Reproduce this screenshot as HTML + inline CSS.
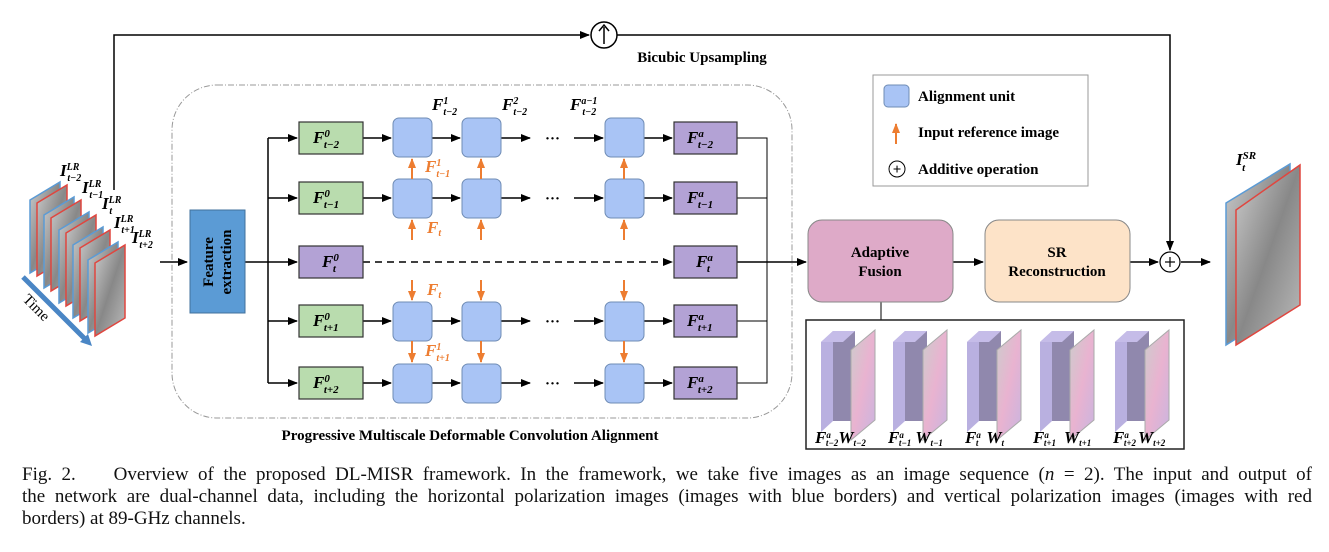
<!DOCTYPE html>
<html><head><meta charset="utf-8"><style>
body{margin:0;background:#fff;width:1329px;height:552px;overflow:hidden}
svg{position:absolute;left:0;top:0}
.b{font-family:"Liberation Serif",serif;font-weight:bold;font-size:15px}
.m{font-family:"Liberation Serif",serif;font-weight:bold;font-style:italic;font-size:17px}
.o{fill:#ed7d31}
.cap{position:absolute;left:22px;top:464px;width:1290px;font-family:"Liberation Serif",serif;font-size:19px;line-height:22px;color:#111}
.cap div{text-align:justify;text-align-last:justify;white-space:nowrap}
.cap div.l{text-align-last:left}
</style></head><body>
<svg width="1329" height="552" viewBox="0 0 1329 552">
<defs>
<marker id="a" markerWidth="10" markerHeight="8" refX="9" refY="4" orient="auto" markerUnits="userSpaceOnUse"><path d="M0,0L10,4L0,8z" fill="#000"/></marker>
<marker id="ao" markerWidth="10" markerHeight="8" refX="9" refY="4" orient="auto" markerUnits="userSpaceOnUse"><path d="M0,0L10,4L0,8z" fill="#ed7d31"/></marker>
<linearGradient id="g" x1="0" y1="0" x2="1" y2="1"><stop offset="0" stop-color="#ccc"/><stop offset=".5" stop-color="#888"/><stop offset="1" stop-color="#bbb"/></linearGradient>
<linearGradient id="pk" x1="0" y1="0" x2="1" y2="1"><stop offset="0" stop-color="#ccc"/><stop offset=".5" stop-color="#e9b3d0"/><stop offset="1" stop-color="#c9b4e0"/></linearGradient>
</defs>
<rect x="172" y="85" width="620" height="333" rx="45" fill="none" stroke="#999" stroke-dasharray="6,2,1,2"/>
<text x="470" y="440" text-anchor="middle" class="b">Progressive Multiscale Deformable Convolution Alignment</text>
<g stroke-width="1.5">
<path d="M30,200L60,182L60,255L30,273z" fill="url(#g)" stroke="#5b9bd5"/><path d="M37,203L67,185L67,258L37,276z" fill="url(#g)" stroke="#e0463f"/>
<path d="M44,215L74,197L74,270L44,288z" fill="url(#g)" stroke="#5b9bd5"/><path d="M51,218L81,200L81,273L51,291z" fill="url(#g)" stroke="#e0463f"/>
<path d="M59,230L89,212L89,285L59,303z" fill="url(#g)" stroke="#5b9bd5"/><path d="M66,233L96,215L96,288L66,306z" fill="url(#g)" stroke="#e0463f"/>
<path d="M73,245L103,227L103,300L73,318z" fill="url(#g)" stroke="#5b9bd5"/><path d="M80,248L110,230L110,303L80,321z" fill="url(#g)" stroke="#e0463f"/>
<path d="M88,260L118,242L118,315L88,333z" fill="url(#g)" stroke="#5b9bd5"/><path d="M95,263L125,245L125,318L95,336z" fill="url(#g)" stroke="#e0463f"/>
</g>
<line x1="23" y1="277" x2="86" y2="340" stroke="#4a86c5" stroke-width="5"/><path d="M92,346L80,342L88,334z" fill="#4a86c5"/>
<text x="22" y="300" font-family="Liberation Serif, serif" font-size="15" transform="rotate(45 22 300)">Time</text>
<text x="60" y="176" class="m" font-size="15">I<tspan dy="-6" font-size="10">LR</tspan><tspan dx="-12" dy="11" font-size="10">t−2</tspan></text>
<text x="82" y="193" class="m" font-size="15">I<tspan dy="-6" font-size="10">LR</tspan><tspan dx="-12" dy="11" font-size="10">t−1</tspan></text>
<text x="102" y="209" class="m" font-size="15">I<tspan dy="-6" font-size="10">LR</tspan><tspan dx="-12" dy="11" font-size="10">t</tspan></text>
<text x="114" y="228" class="m" font-size="15">I<tspan dy="-6" font-size="10">LR</tspan><tspan dx="-12" dy="11" font-size="10">t+1</tspan></text>
<text x="132" y="243" class="m" font-size="15">I<tspan dy="-6" font-size="10">LR</tspan><tspan dx="-12" dy="11" font-size="10">t+2</tspan></text>
<g stroke="#000" stroke-width="1.5" fill="none">
<polyline points="114,190 114,35 589,35" marker-end="url(#a)"/>
<polyline points="617,35 1170,35 1170,250" marker-end="url(#a)"/>
<circle cx="604" cy="35" r="13"/>
<line x1="604" y1="44" x2="604" y2="27"/><path d="M599,31L604,25L609,31"/>
<line x1="160" y1="262" x2="187" y2="262" marker-end="url(#a)"/>
<line x1="245" y1="262" x2="297" y2="262" marker-end="url(#a)"/>
<line x1="268" y1="138" x2="268" y2="383"/>
<line x1="268" y1="138" x2="297" y2="138" marker-end="url(#a)"/>
<line x1="268" y1="198" x2="297" y2="198" marker-end="url(#a)"/>
<line x1="268" y1="321" x2="297" y2="321" marker-end="url(#a)"/>
<line x1="268" y1="383" x2="297" y2="383" marker-end="url(#a)"/>
<line x1="363" y1="262" x2="672" y2="262" stroke-dasharray="7,5" marker-end="url(#a)"/>
<line x1="737" y1="262" x2="806" y2="262" marker-end="url(#a)"/>
<line x1="953" y1="262" x2="983" y2="262" marker-end="url(#a)"/>
<line x1="1130" y1="262" x2="1158" y2="262" marker-end="url(#a)"/>
<line x1="1181" y1="262" x2="1210" y2="262" marker-end="url(#a)"/>
<circle cx="1170" cy="262" r="10" stroke-width="1.2"/>
<line x1="1165" y1="262" x2="1175" y2="262" stroke-width="1.2"/><line x1="1170" y1="257" x2="1170" y2="267" stroke-width="1.2"/>
<polyline points="737,138 767,138 767,383 737,383" stroke-width="1"/>
<line x1="737" y1="198" x2="767" y2="198" stroke-width="1"/>
<line x1="737" y1="321" x2="767" y2="321" stroke-width="1"/>
<line x1="881" y1="302" x2="881" y2="320" stroke-width="1"/>
</g>
<text x="702" y="62" text-anchor="middle" class="b">Bicubic Upsampling</text>
<rect x="190" y="210" width="55" height="103" fill="#5b9bd5" stroke="#41719c"/>
<text transform="translate(213 262) rotate(-90)" text-anchor="middle" class="b" font-size="16">Feature</text>
<text transform="translate(231 262) rotate(-90)" text-anchor="middle" class="b" font-size="16">extraction</text>
<g stroke="#000" stroke-width="1.5">
<g id="r1">
<line x1="363" y1="138" x2="391" y2="138" marker-end="url(#a)"/>
<line x1="432" y1="138" x2="460" y2="138" marker-end="url(#a)"/>
<line x1="501" y1="138" x2="530" y2="138" marker-end="url(#a)"/>
<line x1="574" y1="138" x2="603" y2="138" marker-end="url(#a)"/>
<line x1="644" y1="138" x2="672" y2="138" marker-end="url(#a)"/>
</g>
<use href="#r1" y="60"/><use href="#r1" y="183"/><use href="#r1" y="245"/>
</g>
<g fill="#000" font-size="16" class="b">
<text x="545" y="143">···</text><text x="545" y="203">···</text><text x="545" y="326">···</text><text x="545" y="388">···</text>
</g>
<g fill="#a9c4f5" stroke="#6f8cb5">
<rect x="393" y="118" width="39" height="39" rx="6"/><rect x="462" y="118" width="39" height="39" rx="6"/><rect x="605" y="118" width="39" height="39" rx="6"/>
<rect x="393" y="179" width="39" height="39" rx="6"/><rect x="462" y="179" width="39" height="39" rx="6"/><rect x="605" y="179" width="39" height="39" rx="6"/>
<rect x="393" y="302" width="39" height="39" rx="6"/><rect x="462" y="302" width="39" height="39" rx="6"/><rect x="605" y="302" width="39" height="39" rx="6"/>
<rect x="393" y="364" width="39" height="39" rx="6"/><rect x="462" y="364" width="39" height="39" rx="6"/><rect x="605" y="364" width="39" height="39" rx="6"/>
</g>
<g stroke="#ed7d31" stroke-width="2">
<line x1="412" y1="179" x2="412" y2="159" marker-end="url(#ao)"/><line x1="481" y1="179" x2="481" y2="159" marker-end="url(#ao)"/><line x1="624" y1="179" x2="624" y2="159" marker-end="url(#ao)"/>
<line x1="412" y1="240" x2="412" y2="220" marker-end="url(#ao)"/><line x1="481" y1="240" x2="481" y2="220" marker-end="url(#ao)"/><line x1="624" y1="240" x2="624" y2="220" marker-end="url(#ao)"/>
<line x1="412" y1="280" x2="412" y2="300" marker-end="url(#ao)"/><line x1="481" y1="280" x2="481" y2="300" marker-end="url(#ao)"/><line x1="624" y1="280" x2="624" y2="300" marker-end="url(#ao)"/>
<line x1="412" y1="341" x2="412" y2="362" marker-end="url(#ao)"/><line x1="481" y1="341" x2="481" y2="362" marker-end="url(#ao)"/><line x1="624" y1="341" x2="624" y2="362" marker-end="url(#ao)"/>
</g>
<text x="425" y="172" class="m o" font-size="15">F<tspan dy="-6" font-size="10">1</tspan><tspan dx="-5" dy="11" font-size="10">t−1</tspan></text>
<text x="427" y="233" class="m o" font-size="15">F<tspan dy="3" font-size="10">t</tspan></text>
<text x="427" y="295" class="m o" font-size="15">F<tspan dy="3" font-size="10">t</tspan></text>
<text x="425" y="356" class="m o" font-size="15">F<tspan dy="-6" font-size="10">1</tspan><tspan dx="-5" dy="11" font-size="10">t+1</tspan></text>
<text x="432" y="110" class="m" font-size="15">F<tspan dy="-6" font-size="10">1</tspan><tspan dx="-5" dy="11" font-size="10">t−2</tspan></text>
<text x="502" y="110" class="m" font-size="15">F<tspan dy="-6" font-size="10">2</tspan><tspan dx="-5" dy="11" font-size="10">t−2</tspan></text>
<text x="570" y="110" class="m" font-size="15">F<tspan dy="-6" font-size="10">a−1</tspan><tspan dx="-15" dy="11" font-size="10">t−2</tspan></text>
<g stroke="#333" stroke-width="1.2">
<rect x="299" y="122" width="64" height="32" fill="#b9dcae"/><rect x="299" y="182" width="64" height="32" fill="#b9dcae"/>
<rect x="299" y="246" width="64" height="32" fill="#b3a2d5"/>
<rect x="299" y="305" width="64" height="32" fill="#b9dcae"/><rect x="299" y="367" width="64" height="32" fill="#b9dcae"/>
<rect x="674" y="122" width="63" height="32" fill="#b3a2d5"/><rect x="674" y="182" width="63" height="32" fill="#b3a2d5"/>
<rect x="674" y="246" width="63" height="32" fill="#b3a2d5"/>
<rect x="674" y="305" width="63" height="32" fill="#b3a2d5"/><rect x="674" y="367" width="63" height="32" fill="#b3a2d5"/>
</g>
<g class="m">
<text x="313" y="143">F<tspan dy="-6" font-size="11">0</tspan><tspan dx="-6" dy="11" font-size="11">t−2</tspan></text>
<text x="313" y="203">F<tspan dy="-6" font-size="11">0</tspan><tspan dx="-6" dy="11" font-size="11">t−1</tspan></text>
<text x="322" y="267">F<tspan dy="-6" font-size="11">0</tspan><tspan dx="-6" dy="11" font-size="11">t</tspan></text>
<text x="313" y="326">F<tspan dy="-6" font-size="11">0</tspan><tspan dx="-6" dy="11" font-size="11">t+1</tspan></text>
<text x="313" y="388">F<tspan dy="-6" font-size="11">0</tspan><tspan dx="-6" dy="11" font-size="11">t+2</tspan></text>
<text x="687" y="143">F<tspan dy="-6" font-size="11">a</tspan><tspan dx="-6" dy="11" font-size="11">t−2</tspan></text>
<text x="687" y="203">F<tspan dy="-6" font-size="11">a</tspan><tspan dx="-6" dy="11" font-size="11">t−1</tspan></text>
<text x="696" y="267">F<tspan dy="-6" font-size="11">a</tspan><tspan dx="-6" dy="11" font-size="11">t</tspan></text>
<text x="687" y="326">F<tspan dy="-6" font-size="11">a</tspan><tspan dx="-6" dy="11" font-size="11">t+1</tspan></text>
<text x="687" y="388">F<tspan dy="-6" font-size="11">a</tspan><tspan dx="-6" dy="11" font-size="11">t+2</tspan></text>
</g>
<rect x="808" y="220" width="145" height="82" rx="14" fill="#deaac8" stroke="#888"/>
<text x="880" y="257" text-anchor="middle" class="b">Adaptive</text><text x="880" y="276" text-anchor="middle" class="b">Fusion</text>
<rect x="985" y="220" width="145" height="82" rx="14" fill="#fde3c8" stroke="#888"/>
<text x="1057" y="257" text-anchor="middle" class="b">SR</text><text x="1057" y="276" text-anchor="middle" class="b">Reconstruction</text>
<rect x="873" y="75" width="215" height="111" fill="#fff" stroke="#999"/>
<rect x="884" y="85" width="25" height="22" rx="4" fill="#a9c4f5" stroke="#6f8cb5"/>
<text x="918" y="101" class="b">Alignment unit</text>
<line x1="896" y1="144" x2="896" y2="124" stroke="#ed7d31" stroke-width="2" marker-end="url(#ao)"/>
<text x="918" y="137" class="b">Input reference image</text>
<circle cx="897" cy="169" r="8" fill="none" stroke="#000"/><text x="897" y="174" text-anchor="middle" class="b" font-size="13">+</text>
<text x="918" y="174" class="b">Additive operation</text>
<rect x="806" y="320" width="378" height="129" fill="#fff" stroke="#222" stroke-width="1.5"/>
<g id="w">
<path d="M821,342L833,331L833,421L821,432z" fill="#b9b0e0"/>
<path d="M833,331L855,331L855,421L833,421z" fill="#9088ad"/>
<path d="M821,342L843,342L855,331L833,331z" fill="#c5bce8"/>
<path d="M851,350L875,330L875,420L851,440z" fill="url(#pk)" stroke="#aaa"/>
</g>
<use href="#w" x="72"/><use href="#w" x="146"/><use href="#w" x="219"/><use href="#w" x="294"/>
<g class="m" font-size="13">
<text x="815" y="443">F<tspan dy="-5" font-size="9">a</tspan><tspan dx="-5" dy="8" font-size="9">t−2</tspan><tspan dy="-3">W</tspan><tspan dy="3" font-size="9">t−2</tspan></text>
<text x="888" y="443">F<tspan dy="-5" font-size="9">a</tspan><tspan dx="-5" dy="8" font-size="9">t−1</tspan><tspan dx="4" dy="-3">W</tspan><tspan dy="3" font-size="9">t−1</tspan></text>
<text x="965" y="443">F<tspan dy="-5" font-size="9">a</tspan><tspan dx="-5" dy="8" font-size="9">t</tspan><tspan dx="8" dy="-3">W</tspan><tspan dy="3" font-size="9">t</tspan></text>
<text x="1033" y="443">F<tspan dy="-5" font-size="9">a</tspan><tspan dx="-5" dy="8" font-size="9">t+1</tspan><tspan dx="8" dy="-3">W</tspan><tspan dy="3" font-size="9">t+1</tspan></text>
<text x="1113" y="443">F<tspan dy="-5" font-size="9">a</tspan><tspan dx="-5" dy="8" font-size="9">t+2</tspan><tspan dx="2" dy="-3">W</tspan><tspan dy="3" font-size="9">t+2</tspan></text>
</g>
<path d="M1226,203L1290,164L1290,305L1226,345z" fill="url(#g)" stroke="#5b9bd5" stroke-width="1.5"/>
<path d="M1236,210L1300,165L1300,305L1236,345z" fill="url(#g)" stroke="#e0463f" stroke-width="1.5"/>
<text x="1236" y="165" class="m" font-size="16">I<tspan dy="-6" font-size="11">SR</tspan><tspan dx="-14" dy="12" font-size="11">t</tspan></text>
</svg>
<div class="cap">
<div>Fig. 2.&nbsp;&nbsp;&nbsp; Overview of the proposed DL-MISR framework. In the framework, we take five images as an image sequence (<i>n</i> = 2). The input and output of</div>
<div>the network are dual-channel data, including the horizontal polarization images (images with blue borders) and vertical polarization images (images with red</div>
<div class="l">borders) at 89-GHz channels.</div>
</div>
</body></html>
